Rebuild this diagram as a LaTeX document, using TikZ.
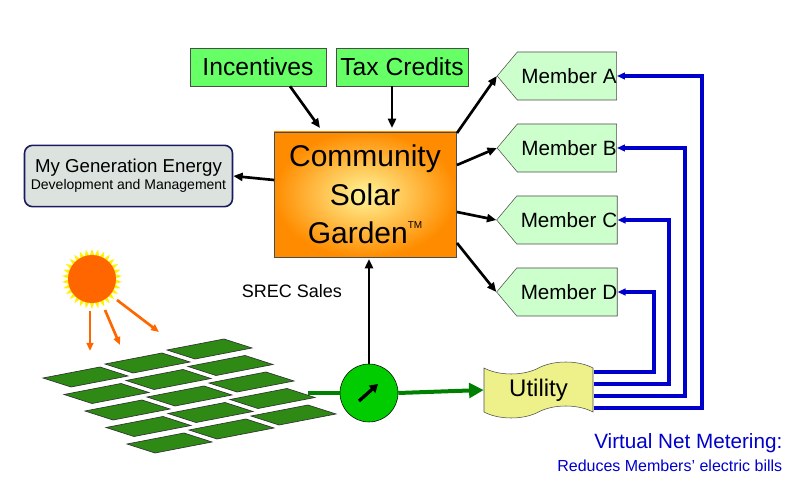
\documentclass[tikz,border=0pt]{standalone}
\usepackage{fontspec}
\setmainfont{Liberation Sans}
\usetikzlibrary{shapes.symbols,shapes.geometric,arrows.meta}
\definecolor{boxgreen}{HTML}{66FF66}
\definecolor{memgreen}{HTML}{CCFFCC}
\definecolor{utilyel}{HTML}{EEF08A}
\definecolor{panelgreen}{HTML}{2E8A14}
\definecolor{vnm}{HTML}{0000CC}
\definecolor{meter}{HTML}{00CC00}
\definecolor{gline}{HTML}{008000}
\definecolor{mgefill}{HTML}{DCE2DE}
\definecolor{mgeline}{HTML}{1A1A60}
\tikzset{
  top/.style={draw=black!70, fill=boxgreen, minimum width=102pt, minimum height=28.5pt, inner sep=0pt, font=\fontsize{18.5}{22}\selectfont},
  member/.style={signal, signal to=west, signal pointer angle=100, draw=black!70, fill=memgreen, minimum width=88pt, minimum height=36pt, inner sep=0pt, font=\fontsize{15.5}{18}\selectfont, text depth=0pt},
  blk/.style={-{Triangle[length=7pt,width=6pt]}, line width=2pt},
  blu/.style={-{Triangle[length=6pt,width=5pt]}, line width=2.4pt, draw=vnm, vnm},
  panel/.style={fill=panelgreen, draw=black!80, line width=0.5pt},
}
\begin{document}
\begin{tikzpicture}[x=0.75pt,y=-0.75pt]
\useasboundingbox (0,0) rectangle (800,502);
% top boxes
\node[top] (inc) at (258,67) {Incentives};
\node[top, minimum width=99pt] (tax) at (402,67) {Tax Credits};
% garden
\shade[inner color=orange!20!yellow!40, outer color=orange!90!yellow, draw=black!70] (274,132) rectangle (456,257);
\node[inner sep=0pt, minimum width=136.5pt, minimum height=93.75pt, align=center, font=\fontsize{22.5}{29}\selectfont] (csg) at (365,194.5) {Community\\Solar\\Garden\raisebox{1ex}{\fontsize{7.5}{8}\selectfont TM}};
% my generation
\node[draw=mgeline, line width=1.2pt, fill=mgefill, rounded corners=6pt, minimum width=156pt, minimum height=46pt, align=center, inner sep=0pt] (mge) at (128.5,176) {{\fontsize{14}{16}\selectfont My Generation Energy}\\[1pt]{\fontsize{10.5}{12}\selectfont Development and Management}};
% members
\node[member] (ma) at (567,76) {\hspace{3pt}Member A};
\node[member] (mb) at (567,148) {\hspace{3pt}Member B};
\node[member] (mc) at (567,220) {\hspace{3pt}Member C};
\node[member] (md) at (567,292) {\hspace{3pt}Member D};
% utility
\node[tape, tape bend top=in and out, tape bend bottom=in and out, tape bend height=9pt, draw=black!70, fill=utilyel, minimum width=81.75pt, minimum height=42pt, inner sep=0pt, font=\fontsize{18}{21}\selectfont] (util) at (538.5,390) {Utility};
% meter
\node[circle, draw=black, fill=meter, minimum size=43.5pt, inner sep=0pt] (mtr) at (369,393) {};
\draw[-{Triangle[length=6pt,width=7pt]}, line width=2.5pt] ([shift={(-10,8)}]mtr.center) -- ([shift={(9,-9)}]mtr.center);
% panels
\foreach \r in {0,...,4}{
 \foreach \c in {0,1,2}{
  \path[panel] ({43+\r*21+\c*62},{378+\r*16.5-\c*14}) -- ++(57,-11) -- ++(28,9) -- ++(-57,11) -- cycle;
 }}
\coordinate (pv) at (308,393);
% sun
\node[star, star points=30, star point ratio=1.3, fill=yellow, minimum size=45pt, inner sep=0pt] (sunr) at (92,279) {};
\node[circle, fill=orange!80!red, minimum size=36pt, inner sep=0pt] (sun) at (92,279) {};
\coordinate (r1a) at (90,311); \coordinate (r1b) at (90,351);
\coordinate (r2a) at (105,310); \coordinate (r2b) at (120,345);
\coordinate (r3a) at (117,300); \coordinate (r3b) at (159,332);
\foreach \a/\b in {r1a/r1b,r2a/r2b,r3a/r3b}
  \draw[-{Triangle[length=6pt,width=5pt]}, line width=2pt, draw=orange!80!red, orange!80!red] (\a) -- (\b);
% green flow
\draw[line width=3pt, gline] (pv) -- (mtr.west);
\draw[line width=3pt, gline, -{Triangle[length=11pt,width=11pt]}] (mtr.east) -- (util.west);
% SREC
\draw[blk] (mtr.north) -- (369,259);
\node[font=\fontsize{13.5}{16}\selectfont] (srec) at (292,291) {SREC Sales};
% black arrows
\draw[blk] (inc.south) ++(32,0) -- (320,128);
\draw[blk] (tax.south) ++(-10,0) -- (392,128);
\draw[blk] (274,180) -- (mge.east);
\draw[blk] (457,133) -- (ma.west);
\draw[blk] (457,165) -- (mb.west);
\draw[blk] (457,212) -- (mc.west);
\draw[blk] (457,243) -- (md.west);
% blue
\draw[blu] (594,372) -- (654,372) -- (654,292) -- (md.east);
\draw[blu] (594,384) -- (669,384) -- (669,220) -- (mc.east);
\draw[blu] (594,396) -- (685,396) -- (685,148) -- (mb.east);
\draw[blu] (594,408) -- (702,408) -- (702,76) -- (ma.east);
\node[anchor=east, vnm, font=\fontsize{15.5}{18}\selectfont] (vt) at (787,443) {Virtual Net Metering:};
\node[anchor=east, vnm, font=\fontsize{12}{14}\selectfont] (vr) at (787,466) {Reduces Members’ electric bills};
\end{tikzpicture}
\end{document}
